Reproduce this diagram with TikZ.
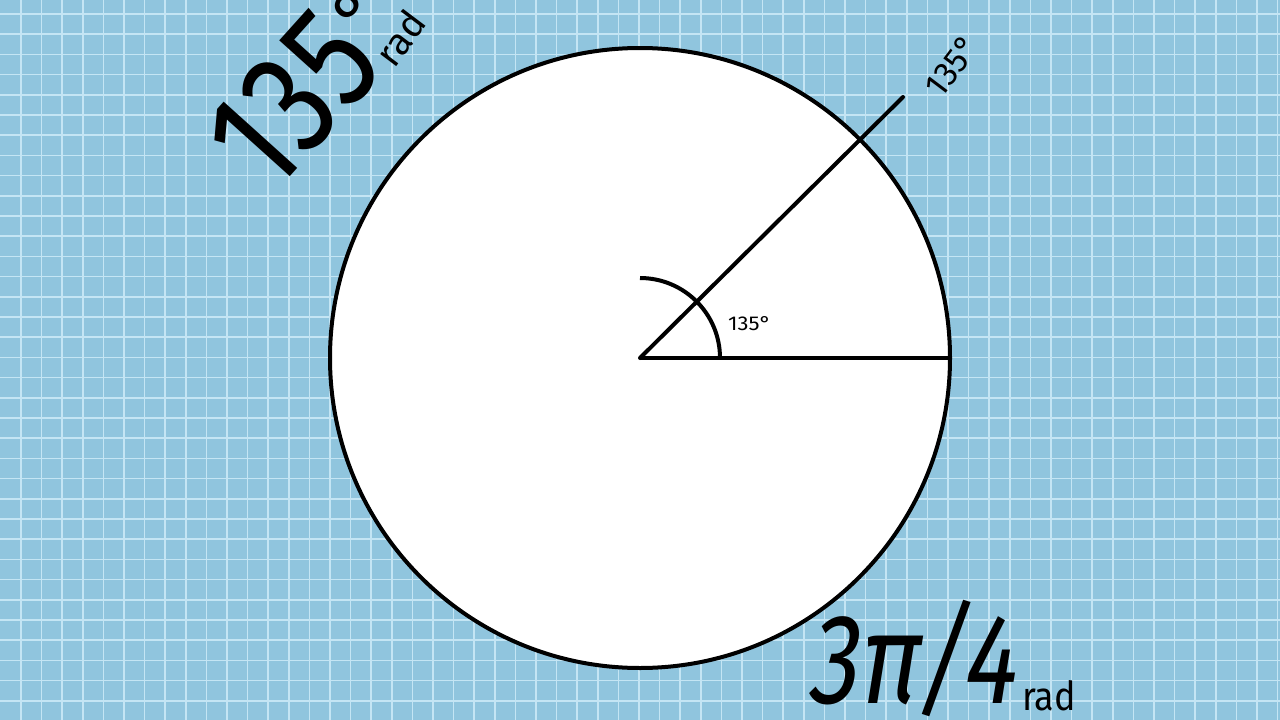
\documentclass[tikz,border=0pt]{standalone}
\usepackage{fontspec}
\setmainfont{Fira Sans}
\definecolor{bgblue}{RGB}{144,197,222}
\definecolor{gridline}{RGB}{196,229,244}
\begin{document}
\begin{tikzpicture}[x=1pt,y=-1pt,
  gridstyle/.style={draw=gridline,line width=1.5pt},
  ink/.style={draw=black,line width=4pt},
  lbl/.style={inner sep=0pt,text=black}]
\useasboundingbox (0,0) rectangle (1280,720);
\fill[bgblue] (0,0) rectangle (1280,720);
\foreach \i in {0,...,62} {
  \draw[gridstyle] (21+20.6*\i,0) -- (21+20.6*\i,720);
}
\foreach \j in {0,...,35} {
  \draw[gridstyle] (0,14+20.2*\j) -- (1280,14+20.2*\j);
}
\coordinate (O) at (640,358);
\node[circle,draw=black,fill=white,line width=4pt,minimum size=620pt,inner sep=0pt] (circ) at (O) {};
\coordinate (R) at (950,358);
\coordinate (T) at (903,97);
\draw[ink,line cap=round] (O) -- (T);
\draw[ink] (O) -- (R);
\draw[ink] (640,278) arc[start angle=-90,end angle=0,radius=80];
\node[lbl,font=\fontsize{20}{20}\selectfont,anchor=base west] (small) at (728,330) {\scalebox{1.1}[1]{135°}};
\node[lbl,font=\fontsize{34}{34}\selectfont,rotate=53] (top) at (952,66) {135°};
\node[lbl,font=\fontsize{148}{148}\selectfont,rotate=48] (big) at (293,100) {\scalebox{0.82}[1]{135}};
\node[lbl,font=\fontsize{72}{72}\selectfont,rotate=48,anchor=base] (bigdeg) at (378,30) {°};
\node[lbl,font=\fontsize{38}{38}\selectfont,rotate=53] (bigrad) at (400,38) {rad};
\node[lbl,font=\fontsize{128}{128}\selectfont,anchor=base west,xslant=0.16] (frac) at (806,703) {\scalebox{0.78}[1]{3π/4}};
\node[lbl,font=\fontsize{40}{40}\selectfont,anchor=base west] (fracrad) at (1022,710) {\scalebox{0.9}[1]{rad}};
\end{tikzpicture}
\end{document}
